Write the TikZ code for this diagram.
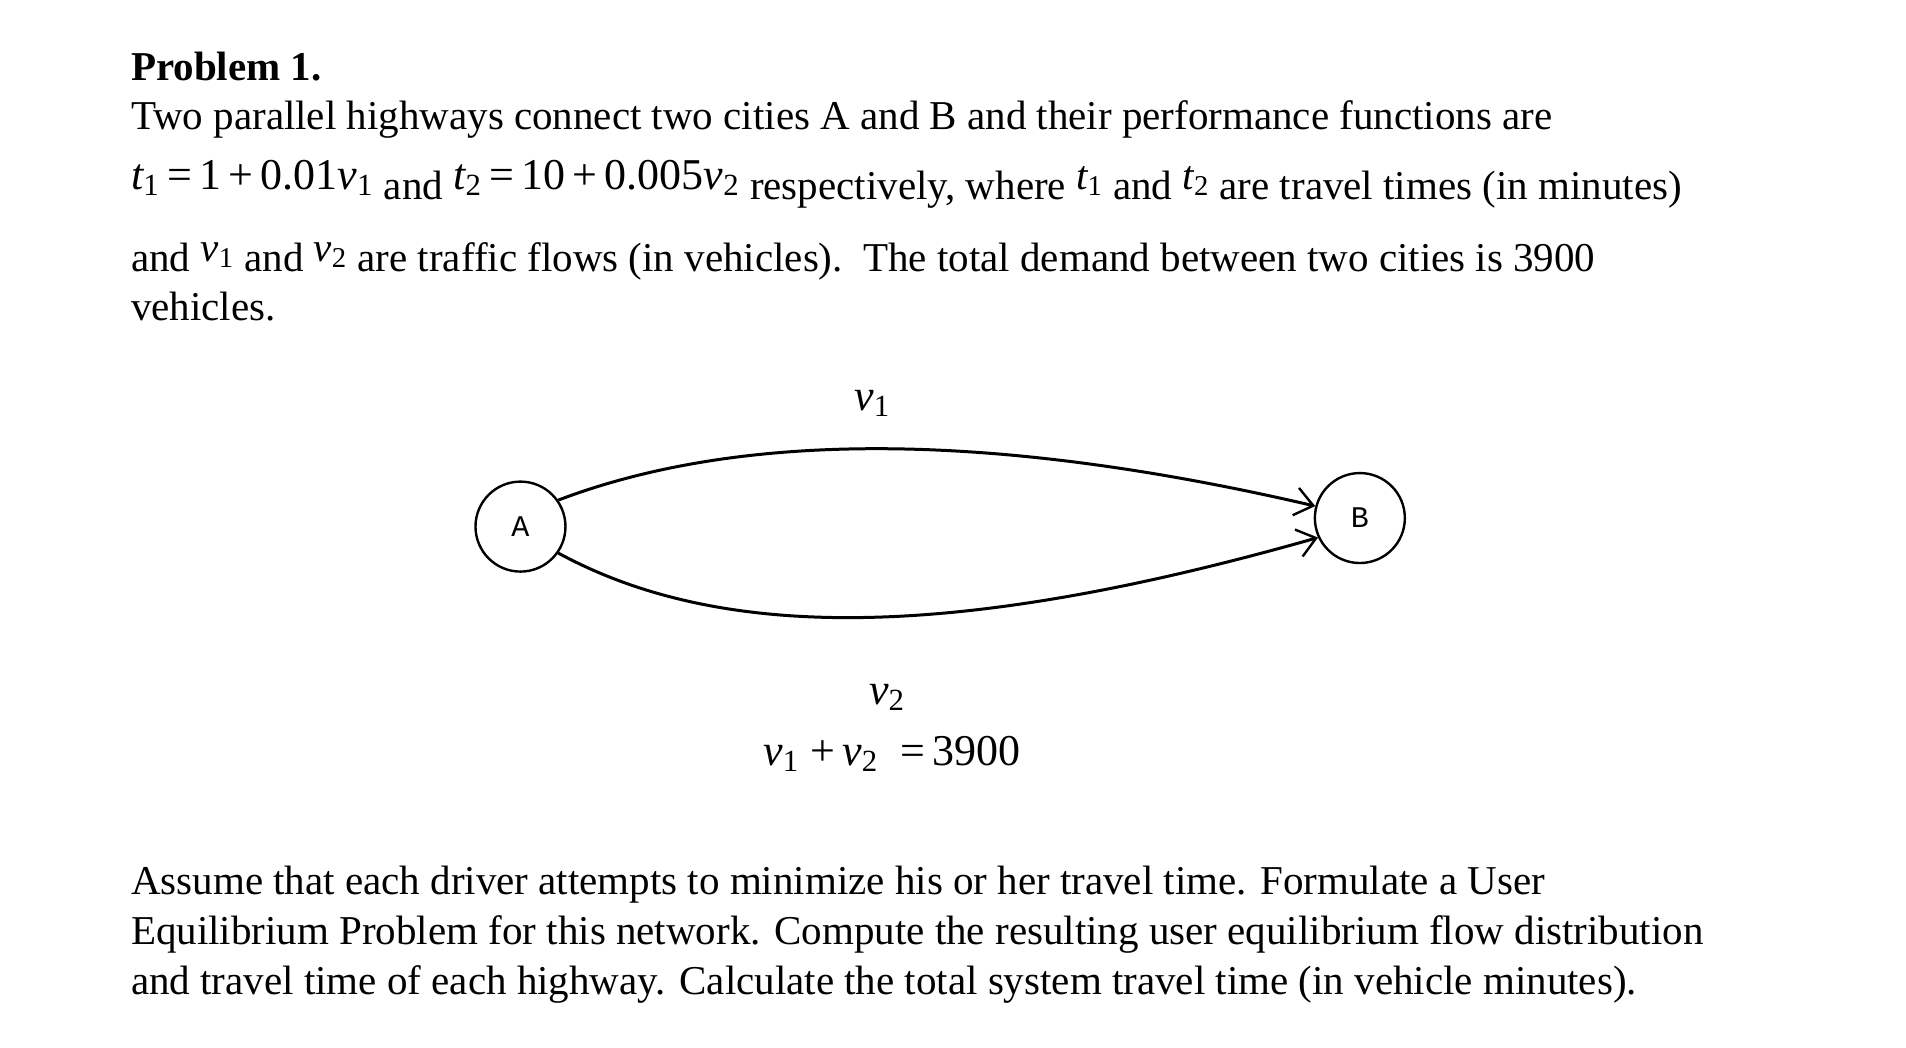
\documentclass[tikz,border=0pt]{standalone}
\usepackage{fontspec}
\setmainfont{Liberation Serif}
\setmonofont{Liberation Mono}
\usetikzlibrary{arrows.meta}
\newcommand{\vv}[1]{{\itshape v}\textsubscript{#1}}
\newcommand{\tv}[1]{{\itshape t}\textsubscript{#1}}
\newcommand{\up}[1]{\raisebox{5pt}{#1}}
\begin{document}
\begin{tikzpicture}[x=0.611pt,y=-0.611pt,
  txt/.style={anchor=base west,inner sep=0pt,font=\fontsize{20.5}{24}\selectfont},
  city/.style={circle,draw,line width=1.2pt,minimum size=45pt,inner sep=0pt,font=\ttfamily\fontsize{15}{15}\selectfont},
  road/.style={line width=1.5pt,-{Straight Barb[length=9pt,width=14pt,line width=1.2pt]}},
  lab/.style={inner sep=0pt,font=\fontsize{22}{24}\selectfont}]
\useasboundingbox (0,0) rectangle (1560,857.7);
\node[txt] (p0) at (107,66) {\bfseries Problem 1.};
\node[txt] (p1) at (107,106) {Two parallel highways connect two cities A and B and their performance functions are};
\node[txt] (p2) at (107,163) {\up{\fontsize{22}{24}\selectfont\tv{1}\,=\,1\,+\,0.01\vv{1}} and \up{\fontsize{22}{24}\selectfont\tv{2}\,=\,10\,+\,0.005\vv{2}} respectively, where \up{\tv{1}} and \up{\tv{2}} are travel times (in minutes)};
\node[txt] (p3) at (107,222) {and \up{\vv{1}} and \up{\vv{2}} are traffic flows (in vehicles).\ \ The total demand between two cities is 3900};
\node[txt] (p4) at (107,262) {vehicles.};
\node[city] (A) at (426,431) {A};
\node[city] (B) at (1113,424) {B};
\draw[road] (A.35) .. controls (600,355) and (800,350) .. (B.165);
\draw[road] (A.-35) .. controls (590,525) and (780,525) .. (B.205);
\node[lab] (v1) at (714,330) {\vv{1}};
\node[lab] (v2) at (726,571) {\vv{2}};
\node[lab] (sum) at (730,617) {\vv{1}\ +\,\vv{2}\ \ =\,3900};
\node[txt] (q1) at (107,732) {Assume that each driver attempts to minimize his or her travel time. Formulate a User};
\node[txt] (q2) at (107,773) {Equilibrium Problem for this network. Compute the resulting user equilibrium flow distribution};
\node[txt] (q3) at (107,814) {and travel time of each highway. Calculate the total system travel time (in vehicle minutes).};
\end{tikzpicture}
\end{document}
